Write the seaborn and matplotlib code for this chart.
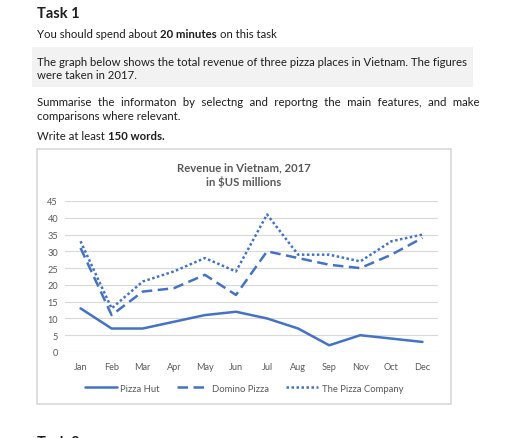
import numpy as np
import pandas as pd
import matplotlib
matplotlib.use("Agg")
import matplotlib.pyplot as plt
import seaborn as sns
from matplotlib.patches import Rectangle

# chart data
months = ["Jan", "Feb", "Mar", "Apr", "May", "Jun", "Jul", "Aug", "Sep", "Nov", "Oct", "Dec"]
pizza_hut = [13, 7, 7, 9, 11, 12, 10, 7, 2, 5, 4, 3]
domino = [31, 11, 18, 19, 23, 17, 30, 28, 26, 25, 29, 34]
pizza_company = [33, 13, 21, 24, 28, 24, 41, 29, 29, 27, 33, 35]

sns.set_style("white")
plt.rcParams["font.family"] = ["Lato", "DejaVu Sans"]

W, H = 512, 439
fig = plt.figure(figsize=(W / 100, H / 100), dpi=100)
renderer = fig.canvas.get_renderer()
TXT = "#1e1e1e"
SIZE = 8.2


def px(x, y):
    return x / W, 1 - y / H


def width(s, bold=False, size=SIZE):
    t = fig.text(0, 0, s, fontsize=size, fontweight="bold" if bold else "normal")
    w = t.get_window_extent(renderer).width
    t.remove()
    return w


def rich(x, y, parts):
    # parts drawn one after another, so bold bits sit inline
    sp = width("a a") - width("aa")
    for s, bold in parts:
        fig.text(*px(x, y), s, fontsize=SIZE, fontweight="bold" if bold else "normal",
                 color=TXT, va="baseline")
        x += width(s, bold) + sp


def justified(x, y, s, right):
    # widen the gaps with extra spaces / hair spaces, keep it one text
    words = s.split()
    sp = width("a a") - width("aa")
    hs = width("a\u200aa") - width("aa")
    gap = (right - x - sum(width(w) for w in words)) / (len(words) - 1)
    n = int(gap // sp)
    m = int(round((gap - n * sp) / hs))
    fig.text(*px(x, y), (" " * n + "\u200a" * m).join(words), fontsize=SIZE,
             color=TXT, va="baseline")


# page text
fig.text(*px(37, 18), "Task 1", fontsize=10.5, fontweight="bold", color=TXT, va="baseline")
rich(37, 38.5, [("You should spend about", False), ("20 minutes", True), ("on this task", False)])
fig.add_artist(Rectangle(px(32, 88), 441 / W, 40 / H, transform=fig.transFigure,
                         facecolor="#f2f2f2", edgecolor="none", zorder=-2))
fig.text(*px(37, 65.5), "The graph below shows the total revenue of three pizza places in Vietnam. The figures",
         fontsize=SIZE, color=TXT, va="baseline")
fig.text(*px(37, 79), "were taken in 2017.", fontsize=SIZE, color=TXT, va="baseline")
justified(37, 106.5, "Summarise the informaton by selectng and reportng the main features, and make", 479)
fig.text(*px(37, 120), "comparisons where relevant.", fontsize=SIZE, color=TXT, va="baseline")
rich(37, 140, [("Write at least", False), ("150 words.", True)])
fig.text(*px(37, 436), "Task 2", fontsize=10.5, fontweight="bold", color=TXT, va="top")

# chart frame and title
fig.add_artist(Rectangle(px(37, 405), 414 / W, 255 / H, transform=fig.transFigure,
                         facecolor="white", edgecolor="#d9d9d9", lw=1.2, zorder=-2))
fig.text(*px(244, 171), "Revenue in Vietnam, 2017", fontsize=8.2, fontweight="bold",
         color="#595959", ha="center", va="baseline")
fig.text(*px(244, 186), "in $US millions", fontsize=8.2, fontweight="bold",
         color="#595959", ha="center", va="baseline")

df = pd.DataFrame({"month": months, "Pizza Hut": pizza_hut,
                   "Domino Pizza": domino, "The Pizza Company": pizza_company})

ax = fig.add_axes([65 / W, 1 - 353 / H, 373 / W, 151 / H])
ax.set_zorder(2)
ax.patch.set_visible(False)
blue = "#4472c4"
styles = {"Pizza Hut": "-", "Domino Pizza": (0, (4.2, 2.2)), "The Pizza Company": (0, (1, 1))}
for name, ls in styles.items():
    sns.lineplot(data=df, x="month", y=name, ax=ax, color=blue, lw=1.8,
                 linestyle=ls, label=name, sort=False)

ax.set_xlim(-0.5, 11.5)
ax.set_ylim(0, 45)
ax.set_yticks(range(0, 46, 5))
ax.grid(axis="y", color="#d9d9d9", lw=0.8)
ax.set_axisbelow(True)
for s in ax.spines.values():
    s.set_visible(False)
ax.set_xlabel("")
ax.set_ylabel("")
ax.tick_params(length=0, labelsize=6.6, colors="#595959", pad=5)
ax.tick_params(axis="x", pad=7)
ax.legend(loc="center", bbox_to_anchor=(0.48, -0.24), ncol=3, frameon=False,
          fontsize=6.8, labelcolor="#595959", handlelength=3.4, columnspacing=1.8,
          handletextpad=0.35)

fig.savefig("out.png", dpi=100)
